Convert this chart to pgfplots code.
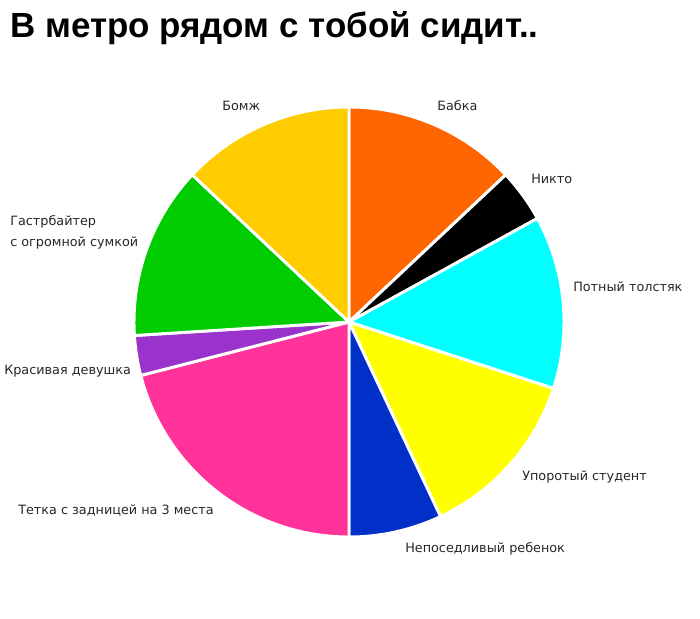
\documentclass[border=0pt]{standalone}
\usepackage{pgfplots}
\pgfplotsset{compat=1.18}
\usepackage{pgfplotstable}
\usepackage{fontspec}
\setmainfont{Liberation Sans}
\newfontfamily\lblfont{DejaVu Sans}

\definecolor{cBabka}{HTML}{FF6600}
\definecolor{cNikto}{HTML}{000000}
\definecolor{cTolst}{HTML}{00FFFF}
\definecolor{cStud}{HTML}{FFFF00}
\definecolor{cReb}{HTML}{0030C8}
\definecolor{cTetka}{HTML}{FF3399}
\definecolor{cDev}{HTML}{9933CC}
\definecolor{cGastr}{HTML}{00CC00}
\definecolor{cBomzh}{HTML}{FFCC00}

\tikzset{lbl/.style={font=\lblfont\fontsize{9.6}{11}\selectfont, text=black!85, inner sep=0pt}}

% shares in percent, clockwise from 12 o'clock
\pgfplotstableread{
val col
13 cBabka
4  cNikto
13 cTolst
13 cStud
7  cReb
21 cTetka
3  cDev
13 cGastr
13 cBomzh
}\piedata

\begin{document}
\begin{tikzpicture}
\begin{axis}[
    x=0.75pt, y=0.75pt,
    xmin=0, xmax=700, ymin=0, ymax=618,
    axis lines=none,
    clip=false,
]
\path (axis cs:0,0) rectangle (axis cs:700,618);
\def\cx{349}\def\cy{296}\def\rr{215}
\gdef\startang{90}
\pgfplotsforeachungrouped \i in {0,...,8}{
    \pgfplotstablegetelem{\i}{val}\of\piedata \let\v\pgfplotsretval
    \pgfplotstablegetelem{\i}{col}\of\piedata \let\c\pgfplotsretval
    \pgfmathsetmacro\endang{\startang-\v*3.6}
    \pgfmathsetmacro\px{\cx+\rr*cos(\startang)}
    \pgfmathsetmacro\py{\cy+\rr*sin(\startang)}
    \edef\temp{\noexpand\fill[fill=\c, draw=white, line width=2.2pt, line join=round]
        (axis cs:\cx,\cy) -- (axis cs:\px,\py)
        arc[start angle=\startang, end angle=\endang, radius=\rr] -- cycle;}
    \temp
    \global\let\startang\endang
}

\node[anchor=base west, font=\bfseries\fontsize{26.2}{30}\selectfont, inner sep=0pt]
    at (axis cs:10,580) {В метро рядом с тобой сидит..};

\node[lbl, anchor=west] at (axis cs:222,512) {Бомж};
\node[lbl, anchor=west] at (axis cs:437,512) {Бабка};
\node[lbl, anchor=west] at (axis cs:531,439) {Никто};
\node[lbl, anchor=west] at (axis cs:573,331) {Потный толстяк};
\node[lbl, anchor=west] at (axis cs:10,396) {Гастрбайтер};
\node[lbl, anchor=west] at (axis cs:10,375) {с огромной сумкой};
\node[lbl, anchor=west] at (axis cs:4,247) {Красивая девушка};
\node[lbl, anchor=west] at (axis cs:18,107) {Тетка с задницей на 3 места};
\node[lbl, anchor=west] at (axis cs:522,141) {Упоротый студент};
\node[lbl, anchor=west] at (axis cs:405,69) {Непоседливый ребенок};
\end{axis}
\end{tikzpicture}
\end{document}
